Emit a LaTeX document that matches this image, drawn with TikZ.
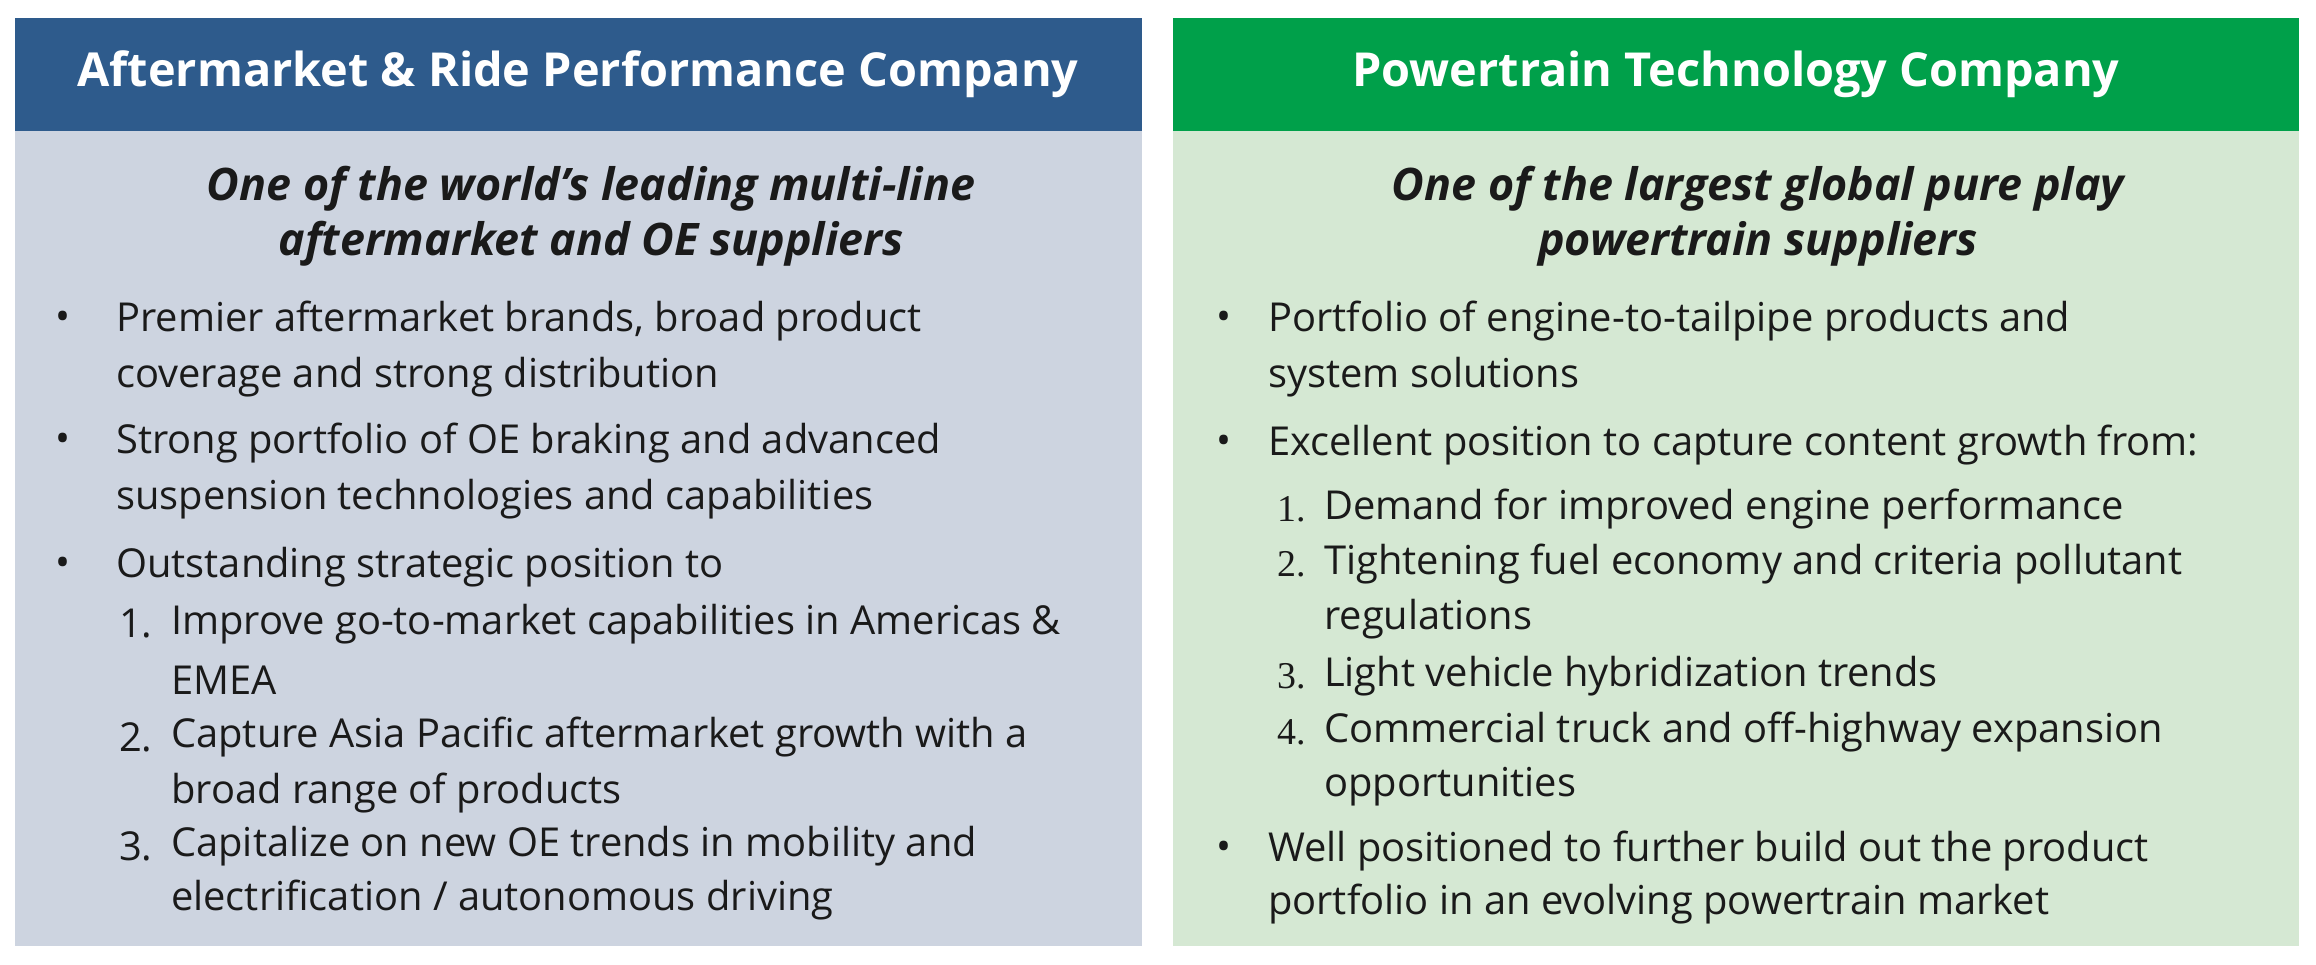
\documentclass[tikz,border=0pt]{standalone}
\usepackage{fontspec}
\setmainfont{Open Sans}
\newfontfamily\numserif{Liberation Serif}
\definecolor{hblue}{HTML}{2E5B8C}
\definecolor{bblue}{HTML}{CDD4E0}
\definecolor{hgreen}{HTML}{00A04A}
\definecolor{bgreen}{HTML}{D5E8D3}
\definecolor{txt}{HTML}{1A1A1A}
\begin{document}
\begin{tikzpicture}[x=1bp,y=-1bp,
  hdr/.style={text=white,font=\fontsize{47}{50}\selectfont\bfseries},
  sub/.style={text=txt,font=\fontsize{45}{55}\selectfont\bfseries\itshape,align=center},
  tx/.style={text=txt,anchor=west,font=\fontsize{40}{44}\selectfont,inner sep=0},
  nm/.style={text=txt,anchor=west,font=\fontsize{38}{44}\selectfont\numserif,inner sep=0}]
\useasboundingbox (0,0) rectangle (2316,964);
\fill[white] (0,0) rectangle (2316,964);
\fill[bblue] (15,131) rectangle (1142,946);
\fill[hblue] (15,18) rectangle (1142,131);
\fill[bgreen] (1173,131) rectangle (2299,946);
\fill[hgreen] (1173,18) rectangle (2299,131);
\node[hdr] (h1) at (578,74) {Aftermarket \& Ride Performance Company};
\node[hdr] (h2) at (1736,74) {Powertrain Technology Company};
\node[sub] (s1) at (591,216) {One of the world’s leading multi-line\\aftermarket and OE suppliers};
\node[sub] (s2) at (1758,216) {One of the largest global pure play\\powertrain suppliers};
% left
\foreach \y in {321,443,567} \node[tx] at (55,\y) {•};
\node[tx] (l1) at (116,321) {Premier aftermarket brands, broad product};
\node[tx] (l2) at (116,377) {coverage and strong distribution};
\node[tx] (l3) at (116,443) {Strong portfolio of OE braking and advanced};
\node[tx] (l4) at (116,499) {suspension technologies and capabilities};
\node[tx] (l5) at (116,567) {Outstanding strategic position to};
\node[tx] at (119,624) {1.};
\node[tx] (l6) at (171,624) {Improve go-to-market capabilities in Americas \&};
\node[tx] (l7) at (171,680) {EMEA};
\node[tx] at (119,737) {2.};
\node[tx] (l8) at (171,737) {Capture Asia Pacific aftermarket growth with a};
\node[tx] (l9) at (171,793) {broad range of products};
\node[tx] at (119,846) {3.};
\node[tx] (l10) at (171,846) {Capitalize on new OE trends in mobility and};
\node[tx] (l11) at (171,900) {electrification / autonomous driving};
% right
\foreach \y in {321,445,851} \node[tx] at (1216,\y) {•};
\node[tx] (r1) at (1268,321) {Portfolio of engine-to-tailpipe products and};
\node[tx] (r2) at (1268,377) {system solutions};
\node[tx] (r3) at (1268,445) {Excellent position to capture content growth from:};
\node[nm] at (1277,509) {1.};
\node[tx] (r4) at (1324,509) {Demand for improved engine performance};
\node[nm] at (1277,564) {2.};
\node[tx] (r5) at (1324,564) {Tightening fuel economy and criteria pollutant};
\node[tx] (r6) at (1324,619) {regulations};
\node[nm] at (1277,676) {3.};
\node[tx] (r7) at (1324,676) {Light vehicle hybridization trends};
\node[nm] at (1277,732) {4.};
\node[tx] (r8) at (1324,732) {Commercial truck and off-highway expansion};
\node[tx] (r9) at (1324,787) {opportunities};
\node[tx] (r10) at (1268,851) {Well positioned to further build out the product};
\node[tx] (r11) at (1268,904) {portfolio in an evolving powertrain market};
\end{tikzpicture}
\end{document}
